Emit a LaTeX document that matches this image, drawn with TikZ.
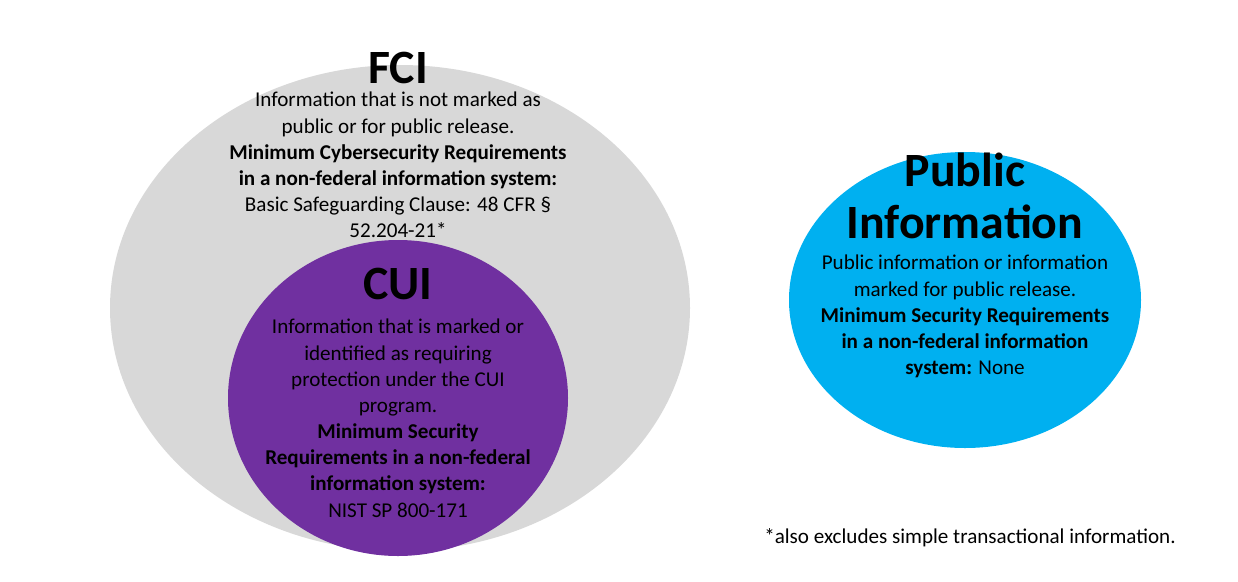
\documentclass[tikz,border=0pt]{standalone}
\usepackage{fontspec}
\setmainfont{Carlito}
\begin{document}
\begin{tikzpicture}[x=0.025cm,y=-0.025cm,
  body/.style={align=center,font=\fontsize{15}{18.6}\selectfont,inner sep=0pt},
  head/.style={font=\fontsize{34}{40}\selectfont\bfseries,inner sep=0pt}]
\useasboundingbox (0,0) rectangle (1238,581);
\definecolor{fcigray}{RGB}{216,216,216}
\definecolor{cuipurple}{RGB}{112,48,160}
\definecolor{pubblue}{RGB}{0,176,240}
\fill[fcigray] (400,308) ellipse [x radius=290, y radius=243] coordinate (fci);
\fill[cuipurple] (398,398) ellipse [x radius=170, y radius=158] coordinate (cui);
\fill[pubblue] (965,300) ellipse [x radius=176, y radius=148] coordinate (pub);
\node[head] (fcih) at (398,68) {FCI};
\node[body,anchor=north] (fcit) at (398,92) {Information that is not marked as\\public or for public release.\\\textbf{Minimum Cybersecurity Requirements}\\\textbf{in a non-federal information system:}\\Basic Safeguarding Clause: 48 CFR §\\52.204-21*};
\node[head] (cuih) at (398,284) {CUI};
\node[body,anchor=north] (cuit) at (398,319) {Information that is marked or\\identified as requiring\\protection under the CUI\\program.\\\textbf{Minimum Security}\\\textbf{Requirements in a non-federal}\\\textbf{information system:}\\NIST SP 800-171};
\node[head] (pubh1) at (965,170) {Public};
\node[head] (pubh2) at (965,222) {Information};
\node[body,anchor=north] (pubt) at (965,255) {Public information or information\\marked for public release.\\\textbf{Minimum Security Requirements}\\\textbf{in a non-federal information}\\\textbf{system:} None};
\node[body] (note) at (970,538) {*also excludes simple transactional information.};
\end{tikzpicture}
\end{document}
